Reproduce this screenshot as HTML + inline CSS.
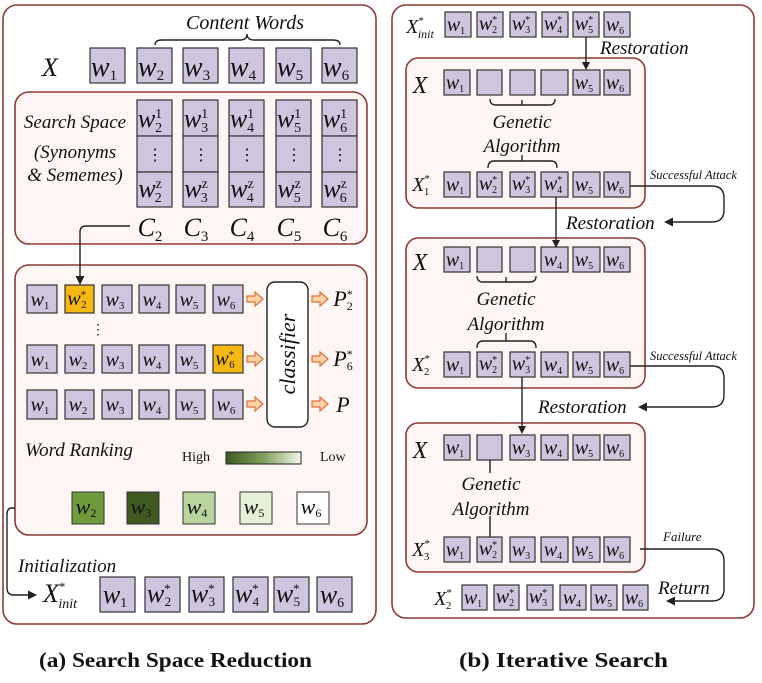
<!DOCTYPE html>
<html><head><meta charset="utf-8"><style>
html,body{margin:0;padding:0;background:#fff;}
svg{display:block;}
.w{font-family:"Liberation Serif",serif;font-style:italic;text-anchor:middle;fill:#111;}
.n{font-style:normal;}
.it{font-family:"Liberation Serif",serif;font-style:italic;fill:#111;}
.b{fill:#cfc5de;stroke:#333;stroke-width:1.2;}
.ln{fill:none;stroke:#222;stroke-width:1.4;}
.ah{fill:#222;stroke:none;}
.ob{fill:none;stroke:#8c3a34;stroke-width:1.6;}
.ib{fill:#fdf6f4;stroke:#8c3a34;stroke-width:1.6;}
.oa{fill:#fbd2a6;stroke:#e0703a;stroke-width:1.2;}
</style></head><body>
<svg width="762" height="683" viewBox="0 0 762 683" xmlns="http://www.w3.org/2000/svg">
<defs>
<linearGradient id="gr" x1="0" x2="1"><stop offset="0" stop-color="#3d5a1e"/><stop offset="0.5" stop-color="#7fa05a"/><stop offset="1" stop-color="#f4f7ee"/></linearGradient>
</defs>

<!-- LEFT PANEL -->
<rect class="ob" x="3" y="5" width="373" height="619" rx="14" fill="#fff"/>
<text class="it" x="245" y="29" font-size="20" text-anchor="middle">Content Words</text>
<path class="ln" d="M155,45 Q155,40 162,40 L240,40 Q247,40 247,34 Q247,40 254,40 L333,40 Q340,40 340,45"/>
<text class="it" x="50" y="76" font-size="26" text-anchor="middle">X</text>
<g font-size="28">
<rect class="b" x="90" y="48" width="35" height="35"/><text class="w" x="104" y="76">w<tspan class="n" font-size="15" dy="4">1</tspan></text>
<rect class="b" x="137" y="48" width="35" height="35"/><text class="w" x="151" y="76">w<tspan class="n" font-size="15" dy="4">2</tspan></text>
<rect class="b" x="183" y="48" width="35" height="35"/><text class="w" x="197" y="76">w<tspan class="n" font-size="15" dy="4">3</tspan></text>
<rect class="b" x="229" y="48" width="35" height="35"/><text class="w" x="243" y="76">w<tspan class="n" font-size="15" dy="4">4</tspan></text>
<rect class="b" x="276" y="48" width="35" height="35"/><text class="w" x="290" y="76">w<tspan class="n" font-size="15" dy="4">5</tspan></text>
<rect class="b" x="322" y="48" width="35" height="35"/><text class="w" x="336" y="76">w<tspan class="n" font-size="15" dy="4">6</tspan></text>
</g>

<rect class="ib" x="15" y="92" width="352" height="152" rx="14"/>
<text class="it" x="75" y="128" font-size="19" text-anchor="middle">Search Space</text>
<text class="it" x="75" y="158" font-size="19" text-anchor="middle">(Synonyms</text>
<text class="it" x="75" y="181" font-size="19" text-anchor="middle">&amp; Sememes)</text>
<g font-size="26">
<rect class="b" x="137" y="100" width="35" height="36"/><rect class="b" x="137" y="136" width="35" height="36"/><rect class="b" x="137" y="172" width="35" height="35"/>
<rect class="b" x="183" y="100" width="35" height="36"/><rect class="b" x="183" y="136" width="35" height="36"/><rect class="b" x="183" y="172" width="35" height="35"/>
<rect class="b" x="229" y="100" width="35" height="36"/><rect class="b" x="229" y="136" width="35" height="36"/><rect class="b" x="229" y="172" width="35" height="35"/>
<rect class="b" x="276" y="100" width="35" height="36"/><rect class="b" x="276" y="136" width="35" height="36"/><rect class="b" x="276" y="172" width="35" height="35"/>
<rect class="b" x="322" y="100" width="35" height="36"/><rect class="b" x="322" y="136" width="35" height="36"/><rect class="b" x="322" y="172" width="35" height="35"/>
<text class="w" x="150" y="127">w<tspan class="n" font-size="14" dy="-9">1</tspan><tspan class="n" font-size="14" dx="-7" dy="14">2</tspan></text>
<text class="w" x="196" y="127">w<tspan class="n" font-size="14" dy="-9">1</tspan><tspan class="n" font-size="14" dx="-7" dy="14">3</tspan></text>
<text class="w" x="242" y="127">w<tspan class="n" font-size="14" dy="-9">1</tspan><tspan class="n" font-size="14" dx="-7" dy="14">4</tspan></text>
<text class="w" x="289" y="127">w<tspan class="n" font-size="14" dy="-9">1</tspan><tspan class="n" font-size="14" dx="-7" dy="14">5</tspan></text>
<text class="w" x="335" y="127">w<tspan class="n" font-size="14" dy="-9">1</tspan><tspan class="n" font-size="14" dx="-7" dy="14">6</tspan></text>
<text class="w n" x="155" y="160" font-size="16">⋮</text><text class="w n" x="201" y="160" font-size="16">⋮</text><text class="w n" x="247" y="160" font-size="16">⋮</text><text class="w n" x="294" y="160" font-size="16">⋮</text><text class="w n" x="340" y="160" font-size="16">⋮</text>
<text class="w" x="150" y="197">w<tspan class="n" font-size="14" dy="-9">z</tspan><tspan class="n" font-size="14" dx="-7" dy="14">2</tspan></text>
<text class="w" x="196" y="197">w<tspan class="n" font-size="14" dy="-9">z</tspan><tspan class="n" font-size="14" dx="-7" dy="14">3</tspan></text>
<text class="w" x="242" y="197">w<tspan class="n" font-size="14" dy="-9">z</tspan><tspan class="n" font-size="14" dx="-7" dy="14">4</tspan></text>
<text class="w" x="289" y="197">w<tspan class="n" font-size="14" dy="-9">z</tspan><tspan class="n" font-size="14" dx="-7" dy="14">5</tspan></text>
<text class="w" x="335" y="197">w<tspan class="n" font-size="14" dy="-9">z</tspan><tspan class="n" font-size="14" dx="-7" dy="14">6</tspan></text>
</g>
<g font-size="26">
<text class="w" x="150" y="236">C<tspan class="n" font-size="15" dy="5">2</tspan></text>
<text class="w" x="196" y="236">C<tspan class="n" font-size="15" dy="5">3</tspan></text>
<text class="w" x="242" y="236">C<tspan class="n" font-size="15" dy="5">4</tspan></text>
<text class="w" x="289" y="236">C<tspan class="n" font-size="15" dy="5">5</tspan></text>
<text class="w" x="335" y="236">C<tspan class="n" font-size="15" dy="5">6</tspan></text>
</g>

<rect class="ib" x="15" y="265" width="352" height="270" rx="14"/>
<g font-size="20">
<rect class="b" x="27" y="285" width="30" height="28"/><text class="w" x="40" y="306">w<tspan class="n" font-size="11" dy="3">1</tspan></text>
<rect x="65" y="285" width="29" height="28" fill="#f6b912" stroke="#333" stroke-width="1.2"/><text class="w" x="77" y="305">w<tspan class="n" font-size="11" dy="-7">*</tspan><tspan class="n" font-size="11" dx="-5" dy="10">2</tspan></text>
<rect class="b" x="102" y="285" width="30" height="28"/><text class="w" x="115" y="306">w<tspan class="n" font-size="11" dy="3">3</tspan></text>
<rect class="b" x="139" y="285" width="30" height="28"/><text class="w" x="152" y="306">w<tspan class="n" font-size="11" dy="3">4</tspan></text>
<rect class="b" x="176" y="285" width="29" height="28"/><text class="w" x="189" y="306">w<tspan class="n" font-size="11" dy="3">5</tspan></text>
<rect class="b" x="213" y="285" width="30" height="28"/><text class="w" x="226" y="306">w<tspan class="n" font-size="11" dy="3">6</tspan></text>
<text class="w n" x="98" y="334" font-size="14">⋮</text>
<rect class="b" x="27" y="345" width="30" height="28"/><text class="w" x="40" y="366">w<tspan class="n" font-size="11" dy="3">1</tspan></text>
<rect class="b" x="65" y="345" width="29" height="28"/><text class="w" x="78" y="366">w<tspan class="n" font-size="11" dy="3">2</tspan></text>
<rect class="b" x="102" y="345" width="30" height="28"/><text class="w" x="115" y="366">w<tspan class="n" font-size="11" dy="3">3</tspan></text>
<rect class="b" x="139" y="345" width="30" height="28"/><text class="w" x="152" y="366">w<tspan class="n" font-size="11" dy="3">4</tspan></text>
<rect class="b" x="176" y="345" width="29" height="28"/><text class="w" x="189" y="366">w<tspan class="n" font-size="11" dy="3">5</tspan></text>
<rect x="213" y="345" width="30" height="28" fill="#f6b912" stroke="#333" stroke-width="1.2"/><text class="w" x="225" y="365">w<tspan class="n" font-size="11" dy="-7">*</tspan><tspan class="n" font-size="11" dx="-5" dy="10">6</tspan></text>
<rect class="b" x="27" y="390" width="30" height="29"/><text class="w" x="40" y="411">w<tspan class="n" font-size="11" dy="3">1</tspan></text>
<rect class="b" x="65" y="390" width="29" height="29"/><text class="w" x="78" y="411">w<tspan class="n" font-size="11" dy="3">2</tspan></text>
<rect class="b" x="102" y="390" width="30" height="29"/><text class="w" x="115" y="411">w<tspan class="n" font-size="11" dy="3">3</tspan></text>
<rect class="b" x="139" y="390" width="30" height="29"/><text class="w" x="152" y="411">w<tspan class="n" font-size="11" dy="3">4</tspan></text>
<rect class="b" x="176" y="390" width="29" height="29"/><text class="w" x="189" y="411">w<tspan class="n" font-size="11" dy="3">5</tspan></text>
<rect class="b" x="213" y="390" width="30" height="29"/><text class="w" x="226" y="411">w<tspan class="n" font-size="11" dy="3">6</tspan></text>
</g>
<path class="oa" d="M247,296 h8 v-4 l8,7 l-8,7 v-4 h-8 z"/>
<path class="oa" d="M247,356 h8 v-4 l8,7 l-8,7 v-4 h-8 z"/>
<path class="oa" d="M247,401 h8 v-4 l8,7 l-8,7 v-4 h-8 z"/>
<path class="oa" d="M312,296 h8 v-4 l8,7 l-8,7 v-4 h-8 z"/>
<path class="oa" d="M312,356 h8 v-4 l8,7 l-8,7 v-4 h-8 z"/>
<path class="oa" d="M312,401 h8 v-4 l8,7 l-8,7 v-4 h-8 z"/>
<rect x="267" y="282" width="41" height="145" rx="8" fill="#fff" stroke="#222" stroke-width="1.4"/>
<text class="it" font-size="22" text-anchor="middle" transform="translate(295,354) rotate(-90)">classifier</text>
<g font-size="22">
<text class="w" x="343" y="306">P<tspan class="n" font-size="12" dy="-8">*</tspan><tspan class="n" font-size="12" dx="-6" dy="12">2</tspan></text>
<text class="w" x="343" y="366">P<tspan class="n" font-size="12" dy="-8">*</tspan><tspan class="n" font-size="12" dx="-6" dy="12">6</tspan></text>
<text class="w" x="343" y="412">P</text>
</g>
<text class="it" x="25" y="456" font-size="19">Word Ranking</text>
<text x="182" y="461" font-family="Liberation Serif,serif" font-size="14" fill="#111">High</text>
<rect x="226" y="452" width="75" height="12" fill="url(#gr)" stroke="#222" stroke-width="1"/>
<text x="320" y="461" font-family="Liberation Serif,serif" font-size="14" fill="#111">Low</text>
<g font-size="22">
<rect x="72" y="492" width="32" height="32" fill="#6e9b3c" stroke="#333"/><text class="w" x="86" y="514">w<tspan class="n" font-size="12" dy="3">2</tspan></text>
<rect x="127" y="492" width="32" height="32" fill="#3e5a20" stroke="#333"/><text class="w" x="141" y="514">w<tspan class="n" font-size="12" dy="3">3</tspan></text>
<rect x="183" y="492" width="32" height="32" fill="#b7d59d" stroke="#333"/><text class="w" x="197" y="514">w<tspan class="n" font-size="12" dy="3">4</tspan></text>
<rect x="240" y="492" width="32" height="32" fill="#e4f0d8" stroke="#333"/><text class="w" x="254" y="514">w<tspan class="n" font-size="12" dy="3">5</tspan></text>
<rect x="297" y="492" width="32" height="32" fill="#fff" stroke="#333"/><text class="w" x="311" y="514">w<tspan class="n" font-size="12" dy="3">6</tspan></text>
</g>
<text class="it" x="18" y="572" font-size="19">Initialization</text>
<text class="w" x="60" y="602" font-size="26">X<tspan class="n" font-size="13" dy="-11">*</tspan><tspan font-size="14" dx="-7" dy="17">init</tspan></text>
<g font-size="26">
<rect class="b" x="100" y="577" width="35" height="35"/><text class="w" x="115" y="603">w<tspan class="n" font-size="14" dy="4">1</tspan></text>
<rect class="b" x="145" y="577" width="35" height="35"/><text class="w" x="159" y="602">w<tspan class="n" font-size="13" dy="-9">*</tspan><tspan class="n" font-size="13" dx="-6" dy="13">2</tspan></text>
<rect class="b" x="189" y="577" width="35" height="35"/><text class="w" x="203" y="602">w<tspan class="n" font-size="13" dy="-9">*</tspan><tspan class="n" font-size="13" dx="-6" dy="13">3</tspan></text>
<rect class="b" x="233" y="577" width="35" height="35"/><text class="w" x="247" y="602">w<tspan class="n" font-size="13" dy="-9">*</tspan><tspan class="n" font-size="13" dx="-6" dy="13">4</tspan></text>
<rect class="b" x="274" y="577" width="35" height="35"/><text class="w" x="288" y="602">w<tspan class="n" font-size="13" dy="-9">*</tspan><tspan class="n" font-size="13" dx="-6" dy="13">5</tspan></text>
<rect class="b" x="317" y="577" width="35" height="35"/><text class="w" x="332" y="603">w<tspan class="n" font-size="14" dy="4">6</tspan></text>
</g>

<!-- RIGHT PANEL -->
<rect class="ob" x="392" y="5" width="362" height="613" rx="14" fill="#fff"/>
<g font-size="20">
<text class="w" x="420" y="33">X<tspan class="n" font-size="11" dy="-9">*</tspan><tspan font-size="12" dx="-6" dy="14">init</tspan></text>
<rect class="b" x="445" y="12" width="26" height="25"/><text class="w" x="456" y="31">w<tspan class="n" font-size="10" dy="3">1</tspan></text>
<rect class="b" x="477" y="12" width="26" height="25"/><text class="w" x="488" y="30">w<tspan class="n" font-size="10" dy="-7">*</tspan><tspan class="n" font-size="10" dx="-5" dy="10">2</tspan></text>
<rect class="b" x="510" y="12" width="26" height="25"/><text class="w" x="521" y="30">w<tspan class="n" font-size="10" dy="-7">*</tspan><tspan class="n" font-size="10" dx="-5" dy="10">3</tspan></text>
<rect class="b" x="542" y="12" width="26" height="25"/><text class="w" x="553" y="30">w<tspan class="n" font-size="10" dy="-7">*</tspan><tspan class="n" font-size="10" dx="-5" dy="10">4</tspan></text>
<rect class="b" x="573" y="12" width="26" height="25"/><text class="w" x="584" y="30">w<tspan class="n" font-size="10" dy="-7">*</tspan><tspan class="n" font-size="10" dx="-5" dy="10">5</tspan></text>
<rect class="b" x="604" y="12" width="26" height="25"/><text class="w" x="615" y="31">w<tspan class="n" font-size="10" dy="3">6</tspan></text>
</g>
<text class="it" x="600" y="54" font-size="19">Restoration</text>

<!-- box 1 -->
<rect class="ib" x="406" y="58" width="239" height="150" rx="12"/>
<text class="it" x="420" y="93" font-size="24" text-anchor="middle">X</text>
<g font-size="20">
<rect class="b" x="444" y="70" width="26" height="25"/><text class="w" x="455" y="89">w<tspan class="n" font-size="10" dy="3">1</tspan></text>
<rect class="b" x="477" y="70" width="25" height="25"/><rect class="b" x="510" y="70" width="25" height="25"/><rect class="b" x="541" y="70" width="27" height="25"/>
<rect class="b" x="573" y="70" width="27" height="25"/><text class="w" x="584" y="89">w<tspan class="n" font-size="10" dy="3">5</tspan></text>
<rect class="b" x="604" y="70" width="26" height="25"/><text class="w" x="615" y="89">w<tspan class="n" font-size="10" dy="3">6</tspan></text>
</g>
<path class="ln" d="M490,99 Q490,105 496,105 L522,105 L522,100 M522,105 L549,105 Q555,105 555,99"/>
<text class="it" x="522" y="128" font-size="19" text-anchor="middle">Genetic</text>
<text class="it" x="522" y="152" font-size="19" text-anchor="middle">Algorithm</text>
<path class="ln" d="M522,155 L522,161 M488,168 Q488,161 494,161 L551,161 Q557,161 557,168"/>
<g font-size="20">
<text class="w" x="421" y="191">X<tspan class="n" font-size="11" dy="-9">*</tspan><tspan class="n" font-size="11" dx="-6" dy="13">1</tspan></text>
<rect class="b" x="444" y="172" width="26" height="25"/><text class="w" x="455" y="191">w<tspan class="n" font-size="10" dy="3">1</tspan></text>
<rect class="b" x="477" y="172" width="25" height="25"/><text class="w" x="488" y="190">w<tspan class="n" font-size="10" dy="-7">*</tspan><tspan class="n" font-size="10" dx="-5" dy="10">2</tspan></text>
<rect class="b" x="510" y="172" width="25" height="25"/><text class="w" x="521" y="190">w<tspan class="n" font-size="10" dy="-7">*</tspan><tspan class="n" font-size="10" dx="-5" dy="10">3</tspan></text>
<rect class="b" x="541" y="172" width="27" height="25"/><text class="w" x="553" y="190">w<tspan class="n" font-size="10" dy="-7">*</tspan><tspan class="n" font-size="10" dx="-5" dy="10">4</tspan></text>
<rect class="b" x="573" y="172" width="27" height="25"/><text class="w" x="584" y="191">w<tspan class="n" font-size="10" dy="3">5</tspan></text>
<rect class="b" x="604" y="172" width="26" height="25"/><text class="w" x="615" y="191">w<tspan class="n" font-size="10" dy="3">6</tspan></text>
</g>
<text class="it" x="650" y="179" font-size="12.5">Successful Attack</text>
<path class="ln" d="M630,186 L712,186 Q724,186 724,198 L724,210 Q724,222 712,222 L672,222"/>
<polygon class="ah" points="673,217.5 673,226.5 664,222"/>
<text class="it" x="566" y="229" font-size="19">Restoration</text>

<!-- box 2 -->
<rect class="ib" x="406" y="238" width="239" height="150" rx="12"/>
<text class="it" x="420" y="270" font-size="24" text-anchor="middle">X</text>
<g font-size="20">
<rect class="b" x="444" y="247" width="26" height="25"/><text class="w" x="455" y="266">w<tspan class="n" font-size="10" dy="3">1</tspan></text>
<rect class="b" x="477" y="247" width="25" height="25"/><rect class="b" x="510" y="247" width="25" height="25"/>
<rect class="b" x="541" y="247" width="27" height="25"/><text class="w" x="553" y="266">w<tspan class="n" font-size="10" dy="3">4</tspan></text>
<rect class="b" x="573" y="247" width="27" height="25"/><text class="w" x="584" y="266">w<tspan class="n" font-size="10" dy="3">5</tspan></text>
<rect class="b" x="604" y="247" width="26" height="25"/><text class="w" x="615" y="266">w<tspan class="n" font-size="10" dy="3">6</tspan></text>
</g>
<path class="ln" d="M477,276 Q477,282 483,282 L506,282 L506,277 M506,282 L530,282 Q536,282 536,276"/>
<text class="it" x="506" y="305" font-size="19" text-anchor="middle">Genetic</text>
<text class="it" x="506" y="330" font-size="19" text-anchor="middle">Algorithm</text>
<path class="ln" d="M506,333 L506,341 M477,348 Q477,341 483,341 L530,341 Q536,341 536,348"/>
<g font-size="20">
<text class="w" x="421" y="371">X<tspan class="n" font-size="11" dy="-9">*</tspan><tspan class="n" font-size="11" dx="-6" dy="13">2</tspan></text>
<rect class="b" x="444" y="352" width="26" height="25"/><text class="w" x="455" y="371">w<tspan class="n" font-size="10" dy="3">1</tspan></text>
<rect class="b" x="477" y="352" width="25" height="25"/><text class="w" x="488" y="370">w<tspan class="n" font-size="10" dy="-7">*</tspan><tspan class="n" font-size="10" dx="-5" dy="10">2</tspan></text>
<rect class="b" x="510" y="352" width="25" height="25"/><text class="w" x="521" y="370">w<tspan class="n" font-size="10" dy="-7">*</tspan><tspan class="n" font-size="10" dx="-5" dy="10">3</tspan></text>
<rect class="b" x="541" y="352" width="27" height="25"/><text class="w" x="553" y="371">w<tspan class="n" font-size="10" dy="3">4</tspan></text>
<rect class="b" x="573" y="352" width="27" height="25"/><text class="w" x="584" y="371">w<tspan class="n" font-size="10" dy="3">5</tspan></text>
<rect class="b" x="604" y="352" width="26" height="25"/><text class="w" x="615" y="371">w<tspan class="n" font-size="10" dy="3">6</tspan></text>
</g>
<text class="it" x="650" y="360" font-size="12.5">Successful Attack</text>
<path class="ln" d="M630,366 L712,366 Q724,366 724,378 L724,395 Q724,407 712,407 L646,407"/>
<polygon class="ah" points="647,402.5 647,411.5 638,407"/>
<text class="it" x="538" y="413" font-size="19">Restoration</text>

<!-- box 3 -->
<rect class="ib" x="406" y="423" width="239" height="149" rx="12"/>
<text class="it" x="420" y="458" font-size="24" text-anchor="middle">X</text>
<g font-size="20">
<rect class="b" x="444" y="435" width="26" height="25"/><text class="w" x="455" y="454">w<tspan class="n" font-size="10" dy="3">1</tspan></text>
<rect class="b" x="477" y="435" width="25" height="25"/>
<rect class="b" x="510" y="435" width="25" height="25"/><text class="w" x="521" y="454">w<tspan class="n" font-size="10" dy="3">3</tspan></text>
<rect class="b" x="541" y="435" width="27" height="25"/><text class="w" x="553" y="454">w<tspan class="n" font-size="10" dy="3">4</tspan></text>
<rect class="b" x="573" y="435" width="27" height="25"/><text class="w" x="584" y="454">w<tspan class="n" font-size="10" dy="3">5</tspan></text>
<rect class="b" x="604" y="435" width="26" height="25"/><text class="w" x="615" y="454">w<tspan class="n" font-size="10" dy="3">6</tspan></text>
</g>
<path class="ln" d="M490,460 L490,473 M490,516 L490,537"/>
<text class="it" x="491" y="490" font-size="19" text-anchor="middle">Genetic</text>
<text class="it" x="491" y="515" font-size="19" text-anchor="middle">Algorithm</text>
<g font-size="20">
<text class="w" x="421" y="556">X<tspan class="n" font-size="11" dy="-9">*</tspan><tspan class="n" font-size="11" dx="-6" dy="13">3</tspan></text>
<rect class="b" x="444" y="537" width="26" height="25"/><text class="w" x="455" y="556">w<tspan class="n" font-size="10" dy="3">1</tspan></text>
<rect class="b" x="477" y="537" width="25" height="25"/><text class="w" x="488" y="555">w<tspan class="n" font-size="10" dy="-7">*</tspan><tspan class="n" font-size="10" dx="-5" dy="10">2</tspan></text>
<rect class="b" x="510" y="537" width="25" height="25"/><text class="w" x="521" y="556">w<tspan class="n" font-size="10" dy="3">3</tspan></text>
<rect class="b" x="541" y="537" width="27" height="25"/><text class="w" x="553" y="556">w<tspan class="n" font-size="10" dy="3">4</tspan></text>
<rect class="b" x="573" y="537" width="27" height="25"/><text class="w" x="584" y="556">w<tspan class="n" font-size="10" dy="3">5</tspan></text>
<rect class="b" x="604" y="537" width="26" height="25"/><text class="w" x="615" y="556">w<tspan class="n" font-size="10" dy="3">6</tspan></text>
</g>
<text class="it" x="663" y="541" font-size="13">Failure</text>
<path class="ln" d="M640,549 L712,549 Q724,549 724,561 L724,589 Q724,601 712,601 L674,601"/>
<polygon class="ah" points="675,596.5 675,605.5 666,601"/>
<text class="it" x="658" y="594" font-size="19">Return</text>
<g font-size="20">
<text class="w" x="443" y="605">X<tspan class="n" font-size="11" dy="-9">*</tspan><tspan class="n" font-size="11" dx="-6" dy="13">2</tspan></text>
<rect class="b" x="462" y="585" width="25" height="25"/><text class="w" x="473" y="604">w<tspan class="n" font-size="10" dy="3">1</tspan></text>
<rect class="b" x="494" y="585" width="25" height="25"/><text class="w" x="505" y="603">w<tspan class="n" font-size="10" dy="-7">*</tspan><tspan class="n" font-size="10" dx="-5" dy="10">2</tspan></text>
<rect class="b" x="527" y="585" width="26" height="25"/><text class="w" x="538" y="603">w<tspan class="n" font-size="10" dy="-7">*</tspan><tspan class="n" font-size="10" dx="-5" dy="10">3</tspan></text>
<rect class="b" x="560" y="585" width="26" height="25"/><text class="w" x="572" y="604">w<tspan class="n" font-size="10" dy="3">4</tspan></text>
<rect class="b" x="591" y="585" width="26" height="25"/><text class="w" x="603" y="604">w<tspan class="n" font-size="10" dy="3">5</tspan></text>
<rect class="b" x="623" y="585" width="25" height="25"/><text class="w" x="634" y="604">w<tspan class="n" font-size="10" dy="3">6</tspan></text>
</g>

<!-- connectors drawn on top -->
<path class="ln" d="M130,226 L86,226 Q80,226 80,232 L80,278"/>
<polygon class="ah" points="75.5,276 84.5,276 80,285"/>
<path class="ln" d="M15,508 L12,508 Q7,508 7,514 L7,588 Q7,595 14,595 L30,595"/>
<polygon class="ah" points="28,590.5 28,599.5 37,595"/>
<path class="ln" d="M586,37 L586,63"/>
<polygon class="ah" points="582,62 590,62 586,70"/>
<path class="ln" d="M556,197 L556,241"/>
<polygon class="ah" points="552,240 560,240 556,248"/>
<path class="ln" d="M522,377 L522,427"/>
<polygon class="ah" points="518,426 526,426 522,434"/>

<!-- captions -->
<text x="39" y="667" font-family="Liberation Serif,serif" font-weight="bold" font-size="21" fill="#111" textLength="273" lengthAdjust="spacingAndGlyphs">(a)  Search Space Reduction</text>
<text x="459" y="667" font-family="Liberation Serif,serif" font-weight="bold" font-size="21" fill="#111" textLength="209" lengthAdjust="spacingAndGlyphs">(b)  Iterative Search</text>
</svg>
</body></html>
